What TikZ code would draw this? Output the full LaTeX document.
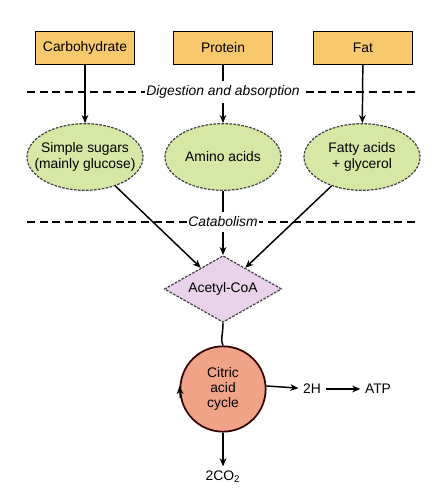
\documentclass[tikz,border=0pt]{standalone}
\usepackage{fontspec}
\setmainfont{Liberation Sans}
\usetikzlibrary{shapes.geometric,positioning,arrows.meta}
\definecolor{foodfill}{HTML}{F8C86C}
\definecolor{smallfill}{HTML}{D6E7A6}
\definecolor{coafill}{HTML}{EBD2EB}
\definecolor{cyclefill}{HTML}{F1A388}
\begin{document}
\begin{tikzpicture}[>={Stealth[length=6pt,width=5pt,inset=1.8pt]},x=0.75pt,y=-0.75pt,font=\fontsize{10.4}{12}\selectfont,
    food/.style={draw,line width=1.1pt,fill=foodfill,minimum width=74pt,minimum height=24.5pt,inner sep=0pt},
    small/.style={ellipse,draw=black!75,dash pattern=on 2pt off 1pt,line width=0.9pt,fill=smallfill,
      minimum width=87pt,minimum height=50pt,inner xsep=-9pt,inner ysep=0pt,align=center},
    stage/.style={draw,line width=1.3pt,dash pattern=on 6pt off 3.5pt},
    stagelabel/.style={fill=white,inner xsep=1pt,font=\fontsize{10.4}{12}\selectfont\itshape},
    flow/.style={->,line width=1.1pt}]

    \useasboundingbox (0,0) rectangle (441,500);

    % foods
    \node[food] (carb) at (85,48) {Carbohydrate};
    \node[food] (prot) at (223,48) {Protein};
    \node[food] (fat) at (363,48) {Fat};

    % small molecules
    \node[small] (sugars) at (85,157) {Simple sugars\\(mainly glucose)};
    \node[small] (amino) at (223,157) {Amino acids};
    \node[small] (fatty) at (362,157) {Fatty acids\\+ glycerol};

    \node[diamond,draw=black!75,dash pattern=on 2pt off 1pt,line width=0.9pt,fill=coafill,aspect=1.75,
      minimum width=88pt,minimum height=50pt,inner sep=0pt] (acetyl) at (223,289) {Acetyl-CoA};

    \node[circle,draw,line width=1.3pt,draw=black!80!red,fill=cyclefill,minimum size=64pt,
      inner sep=0pt,align=center,font=\fontsize{10.4}{11.5}\selectfont] (cycle) at (223,389) {Citric\\acid\\cycle};

    \node (htwo) at (312,389) {2H};
    \node (atp) at (378,389) {ATP};
    \node (co2) at (223,477) {2CO\textsubscript{2}};

    \draw[flow] (carb) -- (sugars);
    \draw[flow] (prot) -- (amino);
    \draw[flow] (fat) -- (fatty);

    \draw[flow] (sugars) -- (acetyl);
    \draw[flow] (amino) -- (acetyl);
    \draw[flow] (fatty) -- (acetyl);

    \draw[line width=1.1pt] (acetyl.south) .. controls +(0,14) and +(-3,-8) .. (cycle.north);
    \draw[flow] (cycle.192) -- (cycle.176);
    \draw[flow] (cycle.4) -- (htwo);
    \draw[flow] (htwo) -- (atp);
    \draw[flow] (cycle.south) -- (co2);

    % stages
    \coordinate (digL) at (27,92);
    \coordinate (digR) at (419,92);
    \draw[stage] (digL) -- (digR) node[midway,stagelabel] (dig) {Digestion and absorption};

    \coordinate (catL) at (27,222);
    \coordinate (catR) at (419,222);
    \draw[stage] (catL) -- (catR) node[midway,stagelabel] (cat) {Catabolism};
\end{tikzpicture}
\end{document}
